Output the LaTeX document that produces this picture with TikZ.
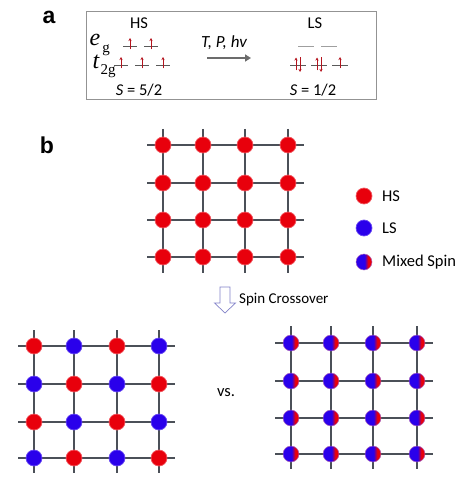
\documentclass[tikz,border=0pt]{standalone}
\usepackage{fontspec}
\setmainfont{Carlito}
\newfontfamily\serifx{Liberation Serif}
\newfontfamily\boldsans{Liberation Sans}
\usetikzlibrary{arrows.meta}
\definecolor{spinred}{RGB}{232,0,12}
\definecolor{spinblue}{RGB}{42,0,235}
\definecolor{gridgray}{RGB}{75,80,88}
\definecolor{darkred}{RGB}{180,20,30}
\definecolor{orbgray}{RGB}{90,90,90}
\pgfdeclarehorizontalshading{mixspin}{100bp}{color(0bp)=(spinblue); color(52bp)=(spinblue); color(63bp)=(spinred); color(100bp)=(spinred)}
\tikzset{
  gridline/.style={draw=gridgray, line width=1.2pt},
  hs/.style={circle, fill=spinred, draw=spinred!65, line width=0.7pt, minimum size=16pt, inner sep=0pt},
  ls/.style={circle, fill=spinblue, draw=spinblue!70, line width=0.7pt, minimum size=16pt, inner sep=0pt},
  mx/.style={circle, shading=mixspin, draw=spinred!40!spinblue!60, line width=0.5pt, minimum size=16pt, inner sep=0pt},
  orbline/.style={draw=orbgray, line width=0.9pt},
  emptyorb/.style={draw=gray!75, line width=1pt},
  spinarr/.style={draw=darkred, line width=0.6pt, -{Stealth[length=3pt,width=3pt]}},
  lbl/.style={inner sep=0pt, font=\fontsize{16.5}{16.5}\selectfont},
  panel/.style={inner sep=0pt, font=\boldsans\bfseries\fontsize{23}{23}\selectfont},
}
\begin{document}
\begin{tikzpicture}[x=1pt,y=-1pt]
\useasboundingbox (0,0) rectangle (474,481);
% ---------- panel a ----------
\node[panel] (la) at (49,17) {a};
\node[draw=gray!85, line width=0.9pt, minimum width=290pt, minimum height=88pt, inner sep=0pt] (box) at (231,55) {};
\node[lbl] (hs) at (139,23) {HS};
\node[lbl] (ls) at (315,23) {LS};
\node[inner sep=0pt, font=\serifx\itshape\fontsize{24}{24}\selectfont] (e) at (95,40) {e};
\node[inner sep=0pt, font=\serifx\fontsize{15}{15}\selectfont] (eg) at (106,50) {g};
\node[inner sep=0pt, font=\serifx\itshape\fontsize{24}{24}\selectfont] (t) at (96,62) {t};
\node[inner sep=0pt, font=\serifx\fontsize{15}{15}\selectfont] (t2g) at (108,71) {2g};
\node[lbl] (s52) at (139,90) {\textit{S} = 5/2};
\node[lbl] (s12) at (313,90) {\textit{S} = 1/2};
\node[lbl, font=\itshape\fontsize{17}{17}\selectfont] (tph) at (224,43) {T, P, hv};
\coordinate (arrA) at (207,58);
\coordinate (arrB) at (251,58);
\draw[draw=gray!85!black, line width=2.4pt, -{Triangle[length=6pt,width=7pt]}] (arrA) -- (arrB);
% HS orbitals
\foreach \x in {130,151}{
  \draw[orbline] (\x-7,46) -- (\x+7,46);
  \draw[spinarr] (\x,49.5) -- (\x,38);
}
\foreach \x in {121,142,163}{
  \draw[orbline] (\x-7,65) -- (\x+7,65);
  \draw[spinarr] (\x,68.5) -- (\x,57);
}
% LS orbitals
\foreach \x in {306,329}{
  \draw[emptyorb] (\x-8,47) -- (\x+8,47);
}
\foreach \x in {298,319}{
  \draw[orbline] (\x-8,65) -- (\x+8,65);
  \draw[spinarr] (\x-2,70.5) -- (\x-2,57.5);
  \draw[spinarr] (\x+2,57.5) -- (\x+2,72);
}
\draw[orbline] (332,65) -- (348,65);
\draw[spinarr] (340,68.5) -- (340,57);
% ---------- panel b ----------
\node[panel] (lb) at (47,145) {b};
% top grid
\foreach \x in {163,203,245,288} \draw[gridline] (\x,129) -- (\x,273);
\foreach \y in {145,183,220,257} \draw[gridline] (147,\y) -- (304,\y);
\foreach \x [count=\i] in {163,203,245,288}
  \foreach \y [count=\j] in {145,183,220,257}
    \node[hs] (a\i\j) at (\x,\y) {};
% legend
\node[hs] (leghs) at (364,196) {};
\node[lbl, anchor=west] (leghst) at (382,196) {HS};
\node[ls] (legls) at (364,228) {};
\node[lbl, anchor=west] (leglst) at (382,228) {LS};
\node[mx] (legmx) at (364,262) {};
\node[lbl, anchor=west] (legmxt) at (382,262) {Mixed Spin};
% spin crossover arrow
\draw[draw=gray!60!blue!70!white, line width=0.7pt, fill=white]
  (220,287) -- (230,287) -- (230,303) -- (235.5,303) -- (225,313) -- (214.5,303) -- (220,303) -- cycle;
\node[lbl, anchor=west, font=\fontsize{15}{15}\selectfont] (sco) at (239,300) {Spin Crossover};
% bottom-left grid
\foreach \x in {34,74,117,159} \draw[gridline] (\x,330) -- (\x,473);
\foreach \y in {346,384,422,458} \draw[gridline] (18,\y) -- (175,\y);
\foreach \x [count=\i] in {34,74,117,159}
  \foreach \y [count=\j] in {346,384,422,458}{
    \pgfmathtruncatemacro\s{\i+\j}
    \ifodd\s \def\st{ls}\else\def\st{hs}\fi
    \node[\st] (b\i\j) at (\x,\y) {};
  }
\node[lbl] (vs) at (226,393) {vs.};
% bottom-right grid
\foreach \x in {291,331,373,417} \draw[gridline] (\x,326) -- (\x,469);
\foreach \y in {343,381,418,454} \draw[gridline] (275,\y) -- (433,\y);
\foreach \x [count=\i] in {291,331,373,417}
  \foreach \y [count=\j] in {343,381,418,454}
    \node[mx] (c\i\j) at (\x,\y) {};
\end{tikzpicture}
\end{document}
